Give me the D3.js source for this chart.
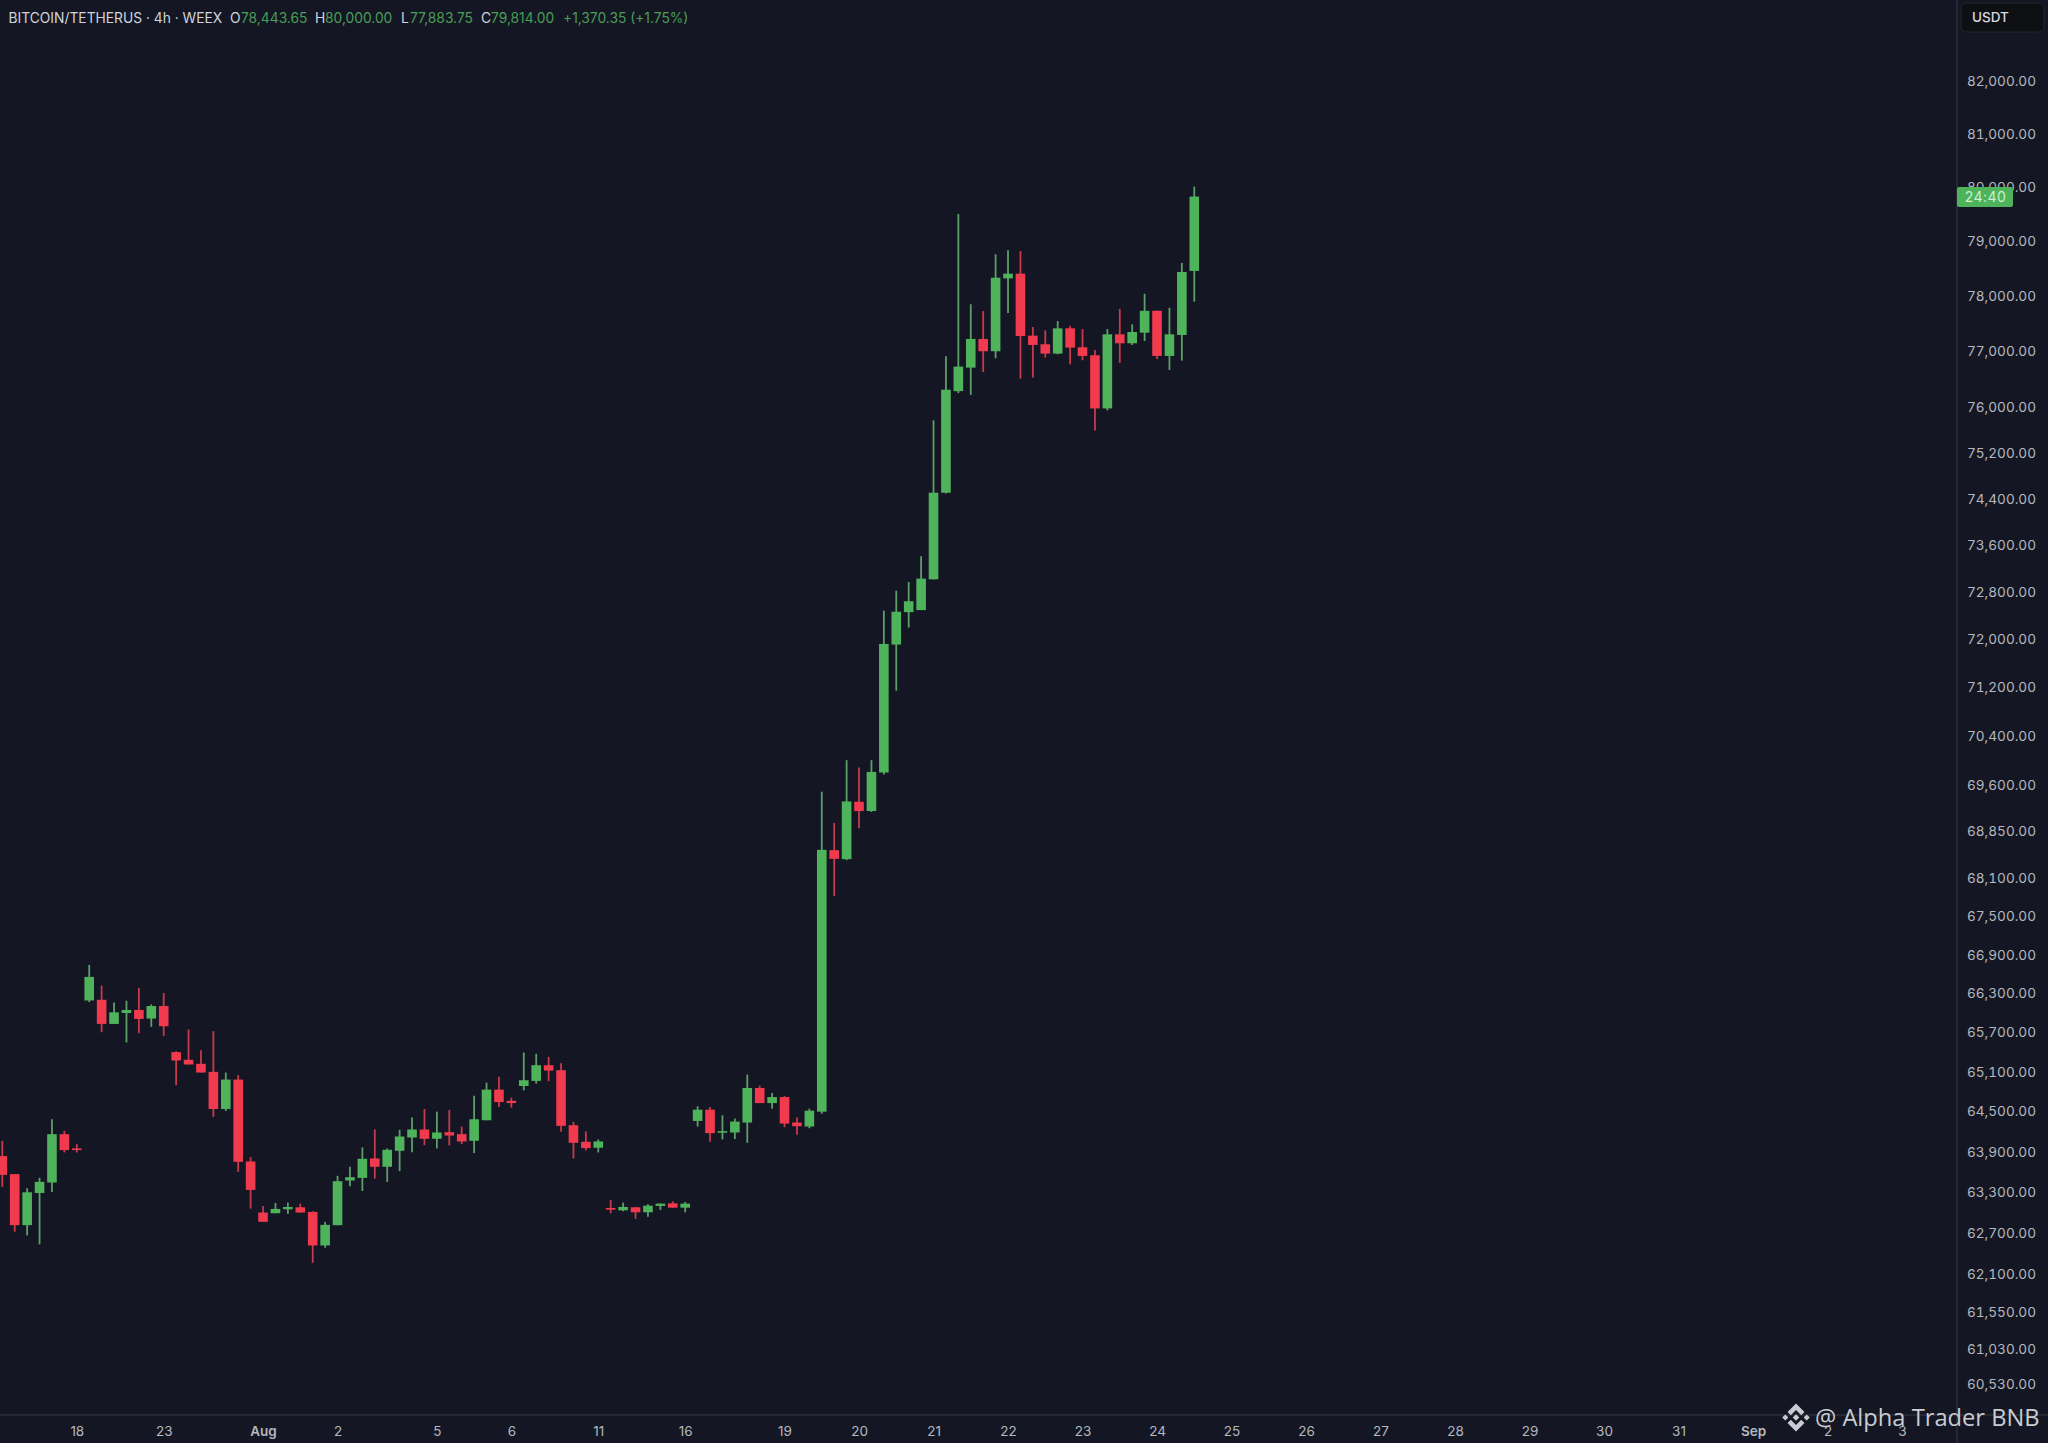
<!DOCTYPE html>
<html><head><meta charset="utf-8">
<script src="https://cdn.jsdelivr.net/npm/d3@7/dist/d3.min.js"></script>
<style>html,body{margin:0;padding:0;background:#141723;overflow:hidden}svg{display:block}</style>
</head><body><svg id="c" width="2048" height="1443"></svg>
<script>
const opens=[63825,63557,62806,63279,63433,64152,63939,66182,66192,65821,65989,66035,65903,66096,65390,65273,65212,65090,64529,64973,63745,62991,62981,63039,63068,63000,62510,62806,63463,63502,63790,63666,63904,64102,64222,64083,64182,64152,64053,64360,64821,64653,64876,64953,65191,65115,64286,64038,63949,63058,63024,63068,62995,63088,63126,63063,64350,64519,64177,64177,64326,64846,64618,64709,64326,64266,64489,68540,68397,69318,69168,69792,71904,72449,72483,73005,74493,76277,76696,77210,76989,78307,78393,77269,77114,76947,77401,77060,76917,75970,77293,77132,77323,77718,76905,77281,78443.65];
const highs=[64053,63560,63349,63502,64375,64202,64003,66733,66411,66152,66177,66374,66121,66296,65405,65735,65420,65710,65080,65039,63810,63088,63131,63136,63122,63010,62855,63532,63666,63954,64222,63939,64217,64400,64529,64489,64514,64266,64729,64927,65014,64699,65384,65364,65318,65222,64336,64192,64073,63175,63136,63073,63112,63126,63155,63146,64569,64559,64435,64385,65049,64882,64770,64724,64400,64534,69481,68976,69993,69873,69993,72473,72811,72958,73399,75760,76899,79489,77837,77712,78748,78822,78809,77425,77365,77532,77448,77388,77011,77388,77754,77473,78026,77724,77772,78589,80000];
const lows=[63368,62709,62656,62525,63294,63879,63879,66157,65694,65821,65537,65679,65776,65638,64887,65202,65080,64410,64499,63592,63049,62855,62981,62971,62991,62258,62476,62806,63378,63309,63492,63443,63602,63884,63988,63939,63983,64003,63869,64360,64559,64549,64810,64912,64948,64187,63790,63909,63879,62981,63010,62898,62928,63029,63058,62995,64266,64038,64073,64078,64023,64618,64534,64256,64142,64241,64459,67811,68381,68892,69152,69759,71135,72189,72483,73000,74480,76241,76211,76618,76863,77676,76498,76516,76875,76935,76755,76827,75579,75935,76779,77102,77173,76851,76654,76821,77883.75];
const closes=[63547,62806,63289,63443,64152,63914,63919,66546,65821,65999,66035,65898,66096,65786,65263,65202,65080,64529,64973,63740,63324,62855,63044,63073,62991,62510,62811,63453,63512,63785,63666,63919,64117,64222,64083,64177,64132,64043,64375,64821,64633,64618,64963,65191,65110,64276,64023,63944,64043,63034,63073,62995,63092,63122,63063,63122,64519,64167,64197,64340,64846,64618,64709,64311,64271,64504,68545,68402,69323,69168,69801,71914,72456,72633,73017,74493,76302,76714,77210,76989,78319,78393,77263,77102,76947,77401,77054,76905,75970,77293,77132,77335,77718,76905,77293,78424,79814];
const priceTicks=[82000,81000,80000,79000,78000,77000,76000,75200,74400,73600,72800,72000,71200,70400,69600,68850,68100,67500,66900,66300,65700,65100,64500,63900,63300,62700,62100,61550,61030,60530];
const timeTickIdx=[6,13,21,27,35,41,48,55,63,69,75,81,87,93,99,105,111,117,123,129,135,141,147,153];
const timeTickLabels=["18","23","Aug","2","5","6","11","16","19","20","21","22","23","24","25","26","27","28","29","30","31","Sep","2","3"];
const boldLabels=["Aug","Sep"];
const headerLeft="BITCOIN/TETHERUS · 4h · WEEX";
const ohlcLabels=["O","H","L","C"];
const ohlcValues=["78,443.65","80,000.00","77,883.75","79,814.00"];
const changeText="+1,370.35 (+1.75%)";

const W=2048,H=1443,axisX=1957,axisY=1415;
const BG="#141723",UP="#4fb35c",DOWN="#f23a4e",UPW="#5d9f68",DOWNW="#c9384b",LINE="#2b2f3b",TXT="#b4b7bf";
const FONT="Inter, 'Noto Sans', sans-serif";
const svg=d3.select("#c");
svg.append("rect").attr("width",W).attr("height",H).attr("fill",BG);

const x=d3.scaleLinear().domain([0,153]).range([2.3,1902]);
const y=d3.scaleLog().domain([82000,60530]).range([80.6,1383.6]);
const fmt=d3.format(",.2f");

svg.append("line").attr("x1",axisX).attr("x2",axisX).attr("y1",0).attr("y2",H).attr("stroke",LINE).attr("stroke-width",1.5);
svg.append("line").attr("x1",0).attr("x2",W).attr("y1",axisY).attr("y2",axisY).attr("stroke",LINE).attr("stroke-width",1.5);

const idx=d3.range(opens.length);
const bw=9.6;
const g=svg.append("g");
g.selectAll("line.w").data(idx).join("line").attr("class","w")
 .attr("x1",i=>x(i)).attr("x2",i=>x(i)).attr("y1",i=>y(highs[i])).attr("y2",i=>y(lows[i]))
 .attr("stroke",i=>closes[i]>=opens[i]?UPW:DOWNW).attr("stroke-width",1.8);
g.selectAll("rect.b").data(idx).join("rect").attr("class","b")
 .attr("x",i=>x(i)-bw/2).attr("width",bw)
 .attr("y",i=>y(Math.max(opens[i],closes[i])))
 .attr("height",i=>Math.max(1.6,y(Math.min(opens[i],closes[i]))-y(Math.max(opens[i],closes[i]))))
 .attr("fill",i=>closes[i]>=opens[i]?UP:DOWN);

const ya=svg.append("g").attr("transform",`translate(2036,0.6)`)
 .call(d3.axisLeft(y).tickValues(priceTicks).tickSize(0).tickPadding(0).tickFormat(fmt));
ya.select(".domain").remove();
ya.selectAll("text").attr("fill",TXT).attr("font-family",FONT).attr("font-size",13.6).style("font-variant-numeric","tabular-nums");

const labelOf=new Map(timeTickIdx.map((v,i)=>[v,timeTickLabels[i]]));
const xa=svg.append("g").attr("transform",`translate(0,1426.5)`)
 .call(d3.axisBottom(x).tickValues(timeTickIdx).tickSize(0).tickPadding(0).tickFormat(v=>labelOf.get(v)));
xa.select(".domain").remove();
xa.selectAll("text").attr("fill",TXT).attr("font-family",FONT).attr("font-size",13.5)
 .attr("font-weight",function(){return boldLabels.includes(this.textContent)?600:400});

const hdr=svg.append("g").attr("font-family",FONT).attr("font-size",13.8);
const LBL="#d1d4dc",VAL="#4a9e57";
const ht=(s,xx,c)=>hdr.append("text").attr("x",xx).attr("y",18).attr("dy","0.35em").attr("fill",c).text(s);
ht(headerLeft,8.5,LBL);
[230,315,401,481].forEach((xx,i)=>ht(ohlcLabels[i],xx,LBL));
[241,325,410,491].forEach((xx,i)=>ht(ohlcValues[i],xx,VAL));
ht(changeText,563,VAL);

svg.append("rect").attr("x",1961).attr("y",3).attr("width",83).attr("height",29).attr("rx",5).attr("fill","#0e0f13").attr("stroke","#23262f");
svg.append("text").attr("x",1972).attr("y",17.5).attr("dy","0.35em").attr("fill","#d8dae0").attr("font-family",FONT).attr("font-size",13.5).attr("font-weight",500).text("USDT");

const lastY=y(closes[closes.length-1]);
svg.append("rect").attr("x",axisX).attr("y",lastY-9.5).attr("width",56).attr("height",20).attr("rx",2).attr("fill",UP);
svg.append("text").attr("x",1985.5).attr("y",lastY+0.5).attr("dy","0.35em").attr("text-anchor","middle").attr("fill","#c9f1cd").attr("font-family",FONT).attr("font-size",14).attr("letter-spacing",0.4).text("24:40");

const wm=svg.append("g");
const lg=wm.append("g").attr("transform","translate(1796,1417.5)").attr("fill","#c9ccd2");
lg.append("path").attr("d","M0,-14 L8.5,-5.5 L5.2,-2.2 L0,-7.4 L-5.2,-2.2 L-8.5,-5.5Z");
lg.append("path").attr("d","M0,14 L8.5,5.5 L5.2,2.2 L0,7.4 L-5.2,2.2 L-8.5,5.5Z");
lg.append("path").attr("d","M0,-3.3 L3.3,0 L0,3.3 L-3.3,0Z");
lg.append("path").attr("d","M-10.7,-3.1 L-7.6,0 L-10.7,3.1 L-13.8,0Z");
lg.append("path").attr("d","M10.7,-3.1 L13.8,0 L10.7,3.1 L7.6,0Z");
wm.append("text").attr("x",1815).attr("y",1418).attr("dy","0.35em").attr("fill","#c9ccd2").attr("font-family","'Open Sans','Noto Sans',sans-serif").attr("font-size",23.7).text("@ Alpha Trader BNB");
</script></body></html>
